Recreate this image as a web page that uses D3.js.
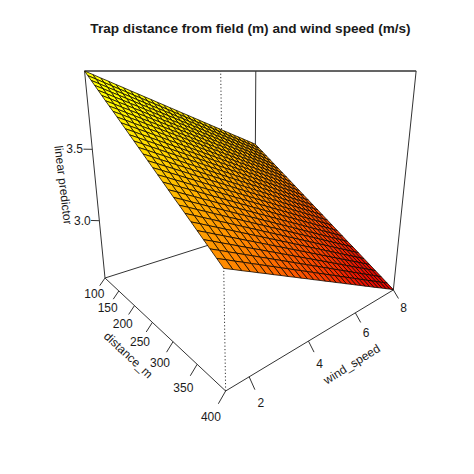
<!DOCTYPE html>
<html>
<head>
<meta charset="utf-8">
<script src="https://cdn.jsdelivr.net/npm/d3@7"></script>
<style>
html,body{margin:0;padding:0;background:#fff}
svg{display:block}
text{font-family:"Liberation Sans",Arial,sans-serif;fill:#1a1a1a}
</style>
</head>
<body>
<svg id="chart" width="474" height="474"></svg>
<script>
const chartTitle = "Trap distance from field (m) and wind speed (m/s)";
const distanceTicks = [100,150,200,250,300,350,400];
const windTicks = [2,4,6,8];
const predictorTicks = [3.0,3.5];
const distanceLimits = [100,400];
const windLimits = [1.33,8];
const predictorLimits = [2.5626,3.9981];

// Surface grid (30 x 30) and its additive linear predictor
const predictorAtOrigin = 3.998;
const distanceGrid = [100,110.3,120.7,131.0,141.4,151.7,162.1,172.4,182.8,193.1,203.4,213.8,224.1,234.5,244.8,255.2,265.5,275.9,286.2,296.6,306.9,317.2,327.6,337.9,348.3,358.6,369.0,379.3,389.7,400];
const windGrid = [1.33,1.56,1.79,2.02,2.25,2.48,2.71,2.94,3.17,3.40,3.63,3.86,4.09,4.32,4.55,4.78,5.01,5.24,5.47,5.70,5.93,6.16,6.39,6.62,6.85,7.08,7.31,7.54,7.77,8.00];
const distanceEffect = [0,-0.028,-0.056,-0.084,-0.112,-0.140,-0.168,-0.196,-0.223,-0.251,-0.279,-0.307,-0.335,-0.363,-0.391,-0.419,-0.447,-0.475,-0.503,-0.531,-0.559,-0.587,-0.614,-0.642,-0.670,-0.698,-0.726,-0.754,-0.782,-0.810];
const windEffect = [0,-0.021,-0.043,-0.064,-0.086,-0.107,-0.129,-0.150,-0.172,-0.193,-0.215,-0.236,-0.258,-0.279,-0.301,-0.322,-0.344,-0.365,-0.387,-0.408,-0.430,-0.451,-0.473,-0.494,-0.516,-0.537,-0.558,-0.580,-0.601,-0.623];

const svg = d3.select("#chart");

// Normalised box coordinates
const uScale = d3.scaleLinear().domain(distanceLimits).range([0,1]);
const vScale = d3.scaleLinear().domain(windLimits).range([0,1]);
const wScale = d3.scaleLinear().domain(predictorLimits).range([0,1]);
const heat = d3.scaleLinear().domain([0,0.12,0.25,0.44,0.72,0.9]).range(["#e00000","#ec1000","#fa4400","#ff8c00","#ffdc00","#ffff00"]).clamp(true);

// Perspective camera: three vanishing points and the image of the box origin
const camera = {
  origin:[105,278],
  uVanish:[-116,71], uWeight:-0.3531,
  vVanish:[756.7,71], vWeight:0.2986,
  wVanish:[246,1706], wWeight:-0.1266
};
function project(u,v,w){
  const c = camera;
  const du = c.uWeight*u, dv = c.vWeight*v, dw = c.wWeight*w;
  const den = 1+du+dv+dw;
  return [
    (c.origin[0]+du*c.uVanish[0]+dv*c.vVanish[0]+dw*c.wVanish[0])/den,
    (c.origin[1]+du*c.uVanish[1]+dv*c.vVanish[1]+dw*c.wVanish[1])/den
  ];
}
const line = d3.line();
const boxColor = "#333";
function seg(a,b,dash){
  svg.append("path").attr("d",line([project(...a),project(...b)]))
    .attr("fill","none").attr("stroke",boxColor).attr("stroke-width",1)
    .attr("stroke-dasharray",dash||null);
}

// Box edges behind the surface
seg([0,0,1],[1,0,1]); seg([1,0,1],[1,1,1]); seg([1,1,1],[0,1,1]); seg([0,1,1],[0,0,1]);
seg([0,0,0],[0,0,1]);
seg([1,1,0],[1,1,1]);
seg([0,1,0],[0,1,1]);
seg([0,0,0],[0,1,0]);
seg([0,1,0],[1,1,0]);
seg([1,0,0],[1,0,1],"1.2,2.2");
seg([0,0,0],[1,0,0]);
seg([1,0,0],[1,1,0]);

// Surface facets, painted back to front
const zAt = (i,j)=>predictorAtOrigin+distanceEffect[i]+windEffect[j];
const pt = (i,j)=>project(uScale(distanceGrid[i]),vScale(windGrid[j]),wScale(zAt(i,j)));
const facets = [];
for(let i=0;i<distanceGrid.length-1;i++){
  for(let j=windGrid.length-2;j>=0;j--){
    facets.push({i,j,z:(zAt(i,j)+zAt(i+1,j)+zAt(i,j+1)+zAt(i+1,j+1))/4});
  }
}
svg.append("g").selectAll("path").data(facets).join("path")
  .attr("d",d=>line([pt(d.i,d.j),pt(d.i+1,d.j),pt(d.i+1,d.j+1),pt(d.i,d.j+1)])+"Z")
  .attr("fill",d=>heat(wScale(d.z)))
  .attr("stroke","#100800").attr("stroke-width",0.8).attr("stroke-linejoin","round");

// Axes ticks and labels
const tickV = 0.03, tickW = 0.032;
const tickFont = 12;
function label(p,txt){
  svg.append("text").attr("x",p[0]).attr("y",p[1]).attr("dy","0.36em")
    .attr("text-anchor","middle").attr("font-size",tickFont).text(txt);
}
distanceTicks.forEach(d=>{
  const u=uScale(d);
  seg([u,0,0],[u,-tickV,-tickW]);
  label(project(u,-2*tickV,-2*tickW),String(d));
});
windTicks.forEach(d=>{
  const v=vScale(d);
  seg([1,v,0],[1+tickV,v,-tickW]);
  label(project(1+2*tickV,v,-2*tickW),String(d));
});
predictorTicks.forEach(d=>{
  const w=wScale(d);
  seg([0,0,w],[-tickV,-tickV,w]);
  label(project(-2*tickV,-2*tickV,w),d.toFixed(1));
});

function axisTitle(x,y,angle,txt){
  svg.append("text").attr("transform",`translate(${x},${y}) rotate(${angle})`)
    .attr("dy","0.36em").attr("text-anchor","middle").attr("font-size",tickFont).text(txt);
}
axisTitle(128.5,355,43,"distance_m");
axisTitle(351.7,364,-32,"wind_speed");
axisTitle(63.5,185,83,"linear predictor");

svg.append("text").attr("x",250.5).attr("y",33).attr("text-anchor","middle")
  .attr("font-size",13.6).attr("font-weight","bold").text(chartTitle);
</script>
</body>
</html>
